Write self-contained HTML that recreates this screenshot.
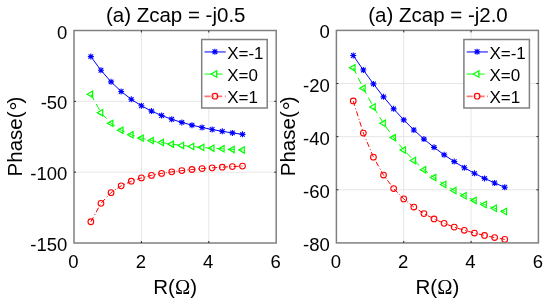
<!DOCTYPE html>
<html><head><meta charset="utf-8"><style>
html,body{margin:0;padding:0;background:#fff;width:550px;height:302px;overflow:hidden}
svg{display:block}
text{font-family:"Liberation Sans",Arial,sans-serif;fill:#000}
.t{font-size:18.5px}
.ti{font-size:20.5px}
.lb{font-size:20.5px}
.lg{font-size:17px}
.om{font-family:"Liberation Serif",serif}
.deg{font-size:12px}
</style></head><body>
<svg width="550" height="302" viewBox="0 0 550 302">
<rect width="550" height="302" fill="#fff"/>
<g><line x1="141.40" y1="30.5" x2="141.40" y2="243.0" stroke="#e6e6e6" stroke-width="1"/>
<line x1="208.80" y1="30.5" x2="208.80" y2="243.0" stroke="#e6e6e6" stroke-width="1"/>
<line x1="74.0" y1="101.33" x2="276.2" y2="101.33" stroke="#e6e6e6" stroke-width="1"/>
<line x1="74.0" y1="172.17" x2="276.2" y2="172.17" stroke="#e6e6e6" stroke-width="1"/>
<path d="M90.85 56.62L100.96 70.27L111.07 81.86L121.18 91.45L131.29 99.32L141.40 105.77L151.51 111.09L161.62 115.53L171.73 119.25L181.84 122.42L191.95 125.14L202.06 127.48L212.17 129.53L222.28 131.33L232.39 132.92L242.50 134.34" stroke="#0000ff" stroke-width="1" fill="none"/>
<path d="M87.85 56.62H93.85M90.85 53.62V59.62M88.55 54.32L93.15 58.92M88.55 58.92L93.15 54.32" stroke="#0000ff" stroke-width="1.1" fill="none"/>
<path d="M97.96 70.27H103.96M100.96 67.27V73.27M98.66 67.97L103.26 72.57M98.66 72.57L103.26 67.97" stroke="#0000ff" stroke-width="1.1" fill="none"/>
<path d="M108.07 81.86H114.07M111.07 78.86V84.86M108.77 79.56L113.37 84.16M108.77 84.16L113.37 79.56" stroke="#0000ff" stroke-width="1.1" fill="none"/>
<path d="M118.18 91.45H124.18M121.18 88.45V94.45M118.88 89.15L123.48 93.75M118.88 93.75L123.48 89.15" stroke="#0000ff" stroke-width="1.1" fill="none"/>
<path d="M128.29 99.32H134.29M131.29 96.32V102.32M128.99 97.02L133.59 101.62M128.99 101.62L133.59 97.02" stroke="#0000ff" stroke-width="1.1" fill="none"/>
<path d="M138.40 105.77H144.40M141.40 102.77V108.77M139.10 103.47L143.70 108.07M139.10 108.07L143.70 103.47" stroke="#0000ff" stroke-width="1.1" fill="none"/>
<path d="M148.51 111.09H154.51M151.51 108.09V114.09M149.21 108.79L153.81 113.39M149.21 113.39L153.81 108.79" stroke="#0000ff" stroke-width="1.1" fill="none"/>
<path d="M158.62 115.53H164.62M161.62 112.53V118.53M159.32 113.23L163.92 117.83M159.32 117.83L163.92 113.23" stroke="#0000ff" stroke-width="1.1" fill="none"/>
<path d="M168.73 119.25H174.73M171.73 116.25V122.25M169.43 116.95L174.03 121.55M169.43 121.55L174.03 116.95" stroke="#0000ff" stroke-width="1.1" fill="none"/>
<path d="M178.84 122.42H184.84M181.84 119.42V125.42M179.54 120.12L184.14 124.72M179.54 124.72L184.14 120.12" stroke="#0000ff" stroke-width="1.1" fill="none"/>
<path d="M188.95 125.14H194.95M191.95 122.14V128.14M189.65 122.84L194.25 127.44M189.65 127.44L194.25 122.84" stroke="#0000ff" stroke-width="1.1" fill="none"/>
<path d="M199.06 127.48H205.06M202.06 124.48V130.48M199.76 125.18L204.36 129.78M199.76 129.78L204.36 125.18" stroke="#0000ff" stroke-width="1.1" fill="none"/>
<path d="M209.17 129.53H215.17M212.17 126.53V132.53M209.87 127.23L214.47 131.83M209.87 131.83L214.47 127.23" stroke="#0000ff" stroke-width="1.1" fill="none"/>
<path d="M219.28 131.33H225.28M222.28 128.33V134.33M219.98 129.03L224.58 133.63M219.98 133.63L224.58 129.03" stroke="#0000ff" stroke-width="1.1" fill="none"/>
<path d="M229.39 132.92H235.39M232.39 129.92V135.92M230.09 130.62L234.69 135.22M230.09 135.22L234.69 130.62" stroke="#0000ff" stroke-width="1.1" fill="none"/>
<path d="M239.50 134.34H245.50M242.50 131.34V137.34M240.20 132.04L244.80 136.64M240.20 136.64L244.80 132.04" stroke="#0000ff" stroke-width="1.1" fill="none"/>
<path d="M90.85 94.25L100.96 112.66L111.07 123.37L121.18 130.16L131.29 134.78L141.40 138.12L151.51 140.62L161.62 142.58L171.73 144.14L181.84 145.42L191.95 146.48L202.06 147.38L212.17 148.15L222.28 148.82L232.39 149.40L242.50 149.91" stroke="#00ff00" stroke-width="1" fill="none" stroke-dasharray="6.8 4.4"/>
<path d="M87.15 94.25L92.65 91.05L92.65 97.45Z" stroke="#00ff00" stroke-width="1.2" fill="none"/>
<path d="M97.26 112.66L102.76 109.46L102.76 115.86Z" stroke="#00ff00" stroke-width="1.2" fill="none"/>
<path d="M107.37 123.37L112.87 120.17L112.87 126.57Z" stroke="#00ff00" stroke-width="1.2" fill="none"/>
<path d="M117.48 130.16L122.98 126.96L122.98 133.36Z" stroke="#00ff00" stroke-width="1.2" fill="none"/>
<path d="M127.59 134.78L133.09 131.58L133.09 137.98Z" stroke="#00ff00" stroke-width="1.2" fill="none"/>
<path d="M137.70 138.12L143.20 134.92L143.20 141.32Z" stroke="#00ff00" stroke-width="1.2" fill="none"/>
<path d="M147.81 140.62L153.31 137.42L153.31 143.82Z" stroke="#00ff00" stroke-width="1.2" fill="none"/>
<path d="M157.92 142.58L163.42 139.38L163.42 145.78Z" stroke="#00ff00" stroke-width="1.2" fill="none"/>
<path d="M168.03 144.14L173.53 140.94L173.53 147.34Z" stroke="#00ff00" stroke-width="1.2" fill="none"/>
<path d="M178.14 145.42L183.64 142.22L183.64 148.62Z" stroke="#00ff00" stroke-width="1.2" fill="none"/>
<path d="M188.25 146.48L193.75 143.28L193.75 149.68Z" stroke="#00ff00" stroke-width="1.2" fill="none"/>
<path d="M198.36 147.38L203.86 144.18L203.86 150.58Z" stroke="#00ff00" stroke-width="1.2" fill="none"/>
<path d="M208.47 148.15L213.97 144.95L213.97 151.35Z" stroke="#00ff00" stroke-width="1.2" fill="none"/>
<path d="M218.58 148.82L224.08 145.62L224.08 152.02Z" stroke="#00ff00" stroke-width="1.2" fill="none"/>
<path d="M228.69 149.40L234.19 146.20L234.19 152.60Z" stroke="#00ff00" stroke-width="1.2" fill="none"/>
<path d="M238.80 149.91L244.30 146.71L244.30 153.11Z" stroke="#00ff00" stroke-width="1.2" fill="none"/>
<path d="M90.85 221.75L100.96 203.34L111.07 192.63L121.18 185.84L131.29 181.22L141.40 177.88L151.51 175.38L161.62 173.42L171.73 171.86L181.84 170.58L191.95 169.52L202.06 168.62L212.17 167.85L222.28 167.18L232.39 166.60L242.50 166.09" stroke="#ff0000" stroke-width="1" fill="none" stroke-dasharray="5.2 2.6 1 2.05"/>
<circle cx="90.85" cy="221.75" r="2.85" stroke="#ff0000" stroke-width="1.1" fill="none"/>
<circle cx="100.96" cy="203.34" r="2.85" stroke="#ff0000" stroke-width="1.1" fill="none"/>
<circle cx="111.07" cy="192.63" r="2.85" stroke="#ff0000" stroke-width="1.1" fill="none"/>
<circle cx="121.18" cy="185.84" r="2.85" stroke="#ff0000" stroke-width="1.1" fill="none"/>
<circle cx="131.29" cy="181.22" r="2.85" stroke="#ff0000" stroke-width="1.1" fill="none"/>
<circle cx="141.40" cy="177.88" r="2.85" stroke="#ff0000" stroke-width="1.1" fill="none"/>
<circle cx="151.51" cy="175.38" r="2.85" stroke="#ff0000" stroke-width="1.1" fill="none"/>
<circle cx="161.62" cy="173.42" r="2.85" stroke="#ff0000" stroke-width="1.1" fill="none"/>
<circle cx="171.73" cy="171.86" r="2.85" stroke="#ff0000" stroke-width="1.1" fill="none"/>
<circle cx="181.84" cy="170.58" r="2.85" stroke="#ff0000" stroke-width="1.1" fill="none"/>
<circle cx="191.95" cy="169.52" r="2.85" stroke="#ff0000" stroke-width="1.1" fill="none"/>
<circle cx="202.06" cy="168.62" r="2.85" stroke="#ff0000" stroke-width="1.1" fill="none"/>
<circle cx="212.17" cy="167.85" r="2.85" stroke="#ff0000" stroke-width="1.1" fill="none"/>
<circle cx="222.28" cy="167.18" r="2.85" stroke="#ff0000" stroke-width="1.1" fill="none"/>
<circle cx="232.39" cy="166.60" r="2.85" stroke="#ff0000" stroke-width="1.1" fill="none"/>
<circle cx="242.50" cy="166.09" r="2.85" stroke="#ff0000" stroke-width="1.1" fill="none"/>
<rect x="74.0" y="30.5" width="202.20" height="212.50" fill="none" stroke="#808080" stroke-width="1.5"/>
<line x1="141.40" y1="30.5" x2="141.40" y2="32.5" stroke="#262626"/>
<line x1="141.40" y1="243.0" x2="141.40" y2="241.0" stroke="#262626"/>
<line x1="208.80" y1="30.5" x2="208.80" y2="32.5" stroke="#262626"/>
<line x1="208.80" y1="243.0" x2="208.80" y2="241.0" stroke="#262626"/>
<line x1="74.0" y1="101.33" x2="76.0" y2="101.33" stroke="#262626"/>
<line x1="276.2" y1="101.33" x2="274.2" y2="101.33" stroke="#262626"/>
<line x1="74.0" y1="172.17" x2="76.0" y2="172.17" stroke="#262626"/>
<line x1="276.2" y1="172.17" x2="274.2" y2="172.17" stroke="#262626"/>
<text x="73.40" y="268.20" text-anchor="middle" class="t">0</text>
<text x="140.80" y="268.20" text-anchor="middle" class="t">2</text>
<text x="208.20" y="268.20" text-anchor="middle" class="t">4</text>
<text x="275.60" y="268.20" text-anchor="middle" class="t">6</text>
<text x="67.40" y="38.50" text-anchor="end" class="t">0</text>
<text x="67.40" y="109.33" text-anchor="end" class="t">-50</text>
<text x="67.40" y="180.17" text-anchor="end" class="t">-100</text>
<text x="67.40" y="251.00" text-anchor="end" class="t">-150</text>
<text x="175.70" y="21.7" text-anchor="middle" class="ti">(a) Zcap = -j0.5</text>
<text x="175.10" y="294.00" text-anchor="middle" class="lb">R(<tspan class="om">Ω</tspan>)</text>
<text transform="translate(21.60 176.40) rotate(-90)" class="lb">Phase(<tspan dy="4.0" dx="1.0" style="font-size:22.5px">°</tspan><tspan dy="-4.0" dx="-2.0">)</tspan></text>
<rect x="201.70" y="39.50" width="65.5" height="68.5" fill="#fff" stroke="#808080" stroke-width="1.5"/>
<line x1="204.50" y1="51.90" x2="225.70" y2="51.90" stroke="#0000ff" stroke-width="1.9" stroke-opacity="0.55"/>
<path d="M211.90 51.70H217.90M214.90 48.70V54.70M212.60 49.40L217.20 54.00M212.60 54.00L217.20 49.40" stroke="#0000ff" stroke-width="1.1" fill="none"/>
<text x="227.20" y="58.60" class="lg">X=-1</text>
<line x1="204.50" y1="74.15" x2="225.70" y2="74.15" stroke="#00ff00" stroke-width="1.9" stroke-opacity="0.55" stroke-dasharray="6.8 4.4"/>
<path d="M211.20 73.95L216.70 70.75L216.70 77.15Z" stroke="#00ff00" stroke-width="1.2" fill="none"/>
<text x="227.20" y="80.85" class="lg">X=0</text>
<line x1="204.50" y1="96.40" x2="225.70" y2="96.40" stroke="#ff0000" stroke-width="1.9" stroke-opacity="0.55" stroke-dasharray="6 2.5 1 2.3"/>
<circle cx="214.90" cy="96.20" r="2.85" stroke="#ff0000" stroke-width="1.1" fill="none"/>
<text x="227.20" y="103.10" class="lg">X=1</text></g>
<g><line x1="403.73" y1="30.4" x2="403.73" y2="242.9" stroke="#e6e6e6" stroke-width="1"/>
<line x1="471.07" y1="30.4" x2="471.07" y2="242.9" stroke="#e6e6e6" stroke-width="1"/>
<line x1="336.4" y1="83.53" x2="538.4" y2="83.53" stroke="#e6e6e6" stroke-width="1"/>
<line x1="336.4" y1="136.65" x2="538.4" y2="136.65" stroke="#e6e6e6" stroke-width="1"/>
<line x1="336.4" y1="189.78" x2="538.4" y2="189.78" stroke="#e6e6e6" stroke-width="1"/>
<path d="M353.23 55.53L363.33 70.06L373.43 83.89L383.53 96.85L393.63 108.86L403.73 119.89L413.83 129.95L423.93 139.08L434.03 147.35L444.13 154.84L454.23 161.62L464.33 167.75L474.43 173.32L484.53 178.39L494.63 183.00L504.73 187.22" stroke="#0000ff" stroke-width="1" fill="none"/>
<path d="M350.23 55.53H356.23M353.23 52.53V58.53M350.93 53.23L355.53 57.83M350.93 57.83L355.53 53.23" stroke="#0000ff" stroke-width="1.1" fill="none"/>
<path d="M360.33 70.06H366.33M363.33 67.06V73.06M361.03 67.76L365.63 72.36M361.03 72.36L365.63 67.76" stroke="#0000ff" stroke-width="1.1" fill="none"/>
<path d="M370.43 83.89H376.43M373.43 80.89V86.89M371.13 81.59L375.73 86.19M371.13 86.19L375.73 81.59" stroke="#0000ff" stroke-width="1.1" fill="none"/>
<path d="M380.53 96.85H386.53M383.53 93.85V99.85M381.23 94.55L385.83 99.15M381.23 99.15L385.83 94.55" stroke="#0000ff" stroke-width="1.1" fill="none"/>
<path d="M390.63 108.86H396.63M393.63 105.86V111.86M391.33 106.56L395.93 111.16M391.33 111.16L395.93 106.56" stroke="#0000ff" stroke-width="1.1" fill="none"/>
<path d="M400.73 119.89H406.73M403.73 116.89V122.89M401.43 117.59L406.03 122.19M401.43 122.19L406.03 117.59" stroke="#0000ff" stroke-width="1.1" fill="none"/>
<path d="M410.83 129.95H416.83M413.83 126.95V132.95M411.53 127.65L416.13 132.25M411.53 132.25L416.13 127.65" stroke="#0000ff" stroke-width="1.1" fill="none"/>
<path d="M420.93 139.08H426.93M423.93 136.08V142.08M421.63 136.78L426.23 141.38M421.63 141.38L426.23 136.78" stroke="#0000ff" stroke-width="1.1" fill="none"/>
<path d="M431.03 147.35H437.03M434.03 144.35V150.35M431.73 145.05L436.33 149.65M431.73 149.65L436.33 145.05" stroke="#0000ff" stroke-width="1.1" fill="none"/>
<path d="M441.13 154.84H447.13M444.13 151.84V157.84M441.83 152.54L446.43 157.14M441.83 157.14L446.43 152.54" stroke="#0000ff" stroke-width="1.1" fill="none"/>
<path d="M451.23 161.62H457.23M454.23 158.62V164.62M451.93 159.32L456.53 163.92M451.93 163.92L456.53 159.32" stroke="#0000ff" stroke-width="1.1" fill="none"/>
<path d="M461.33 167.75H467.33M464.33 164.75V170.75M462.03 165.45L466.63 170.05M462.03 170.05L466.63 165.45" stroke="#0000ff" stroke-width="1.1" fill="none"/>
<path d="M471.43 173.32H477.43M474.43 170.32V176.32M472.13 171.02L476.73 175.62M472.13 175.62L476.73 171.02" stroke="#0000ff" stroke-width="1.1" fill="none"/>
<path d="M481.53 178.39H487.53M484.53 175.39V181.39M482.23 176.09L486.83 180.69M482.23 180.69L486.83 176.09" stroke="#0000ff" stroke-width="1.1" fill="none"/>
<path d="M491.63 183.00H497.63M494.63 180.00V186.00M492.33 180.70L496.93 185.30M492.33 185.30L496.93 180.70" stroke="#0000ff" stroke-width="1.1" fill="none"/>
<path d="M501.73 187.22H507.73M504.73 184.22V190.22M502.43 184.92L507.03 189.52M502.43 189.52L507.03 184.92" stroke="#0000ff" stroke-width="1.1" fill="none"/>
<path d="M353.23 67.68L363.33 88.31L373.43 106.93L383.53 123.35L393.63 137.62L403.73 149.93L413.83 160.53L423.93 169.67L434.03 177.58L444.13 184.45L454.23 190.45L464.33 195.73L474.43 200.39L484.53 204.53L494.63 208.23L504.73 211.55" stroke="#00ff00" stroke-width="1" fill="none" stroke-dasharray="6.8 4.4"/>
<path d="M349.53 67.68L355.03 64.48L355.03 70.88Z" stroke="#00ff00" stroke-width="1.2" fill="none"/>
<path d="M359.63 88.31L365.13 85.11L365.13 91.51Z" stroke="#00ff00" stroke-width="1.2" fill="none"/>
<path d="M369.73 106.93L375.23 103.73L375.23 110.13Z" stroke="#00ff00" stroke-width="1.2" fill="none"/>
<path d="M379.83 123.35L385.33 120.15L385.33 126.55Z" stroke="#00ff00" stroke-width="1.2" fill="none"/>
<path d="M389.93 137.62L395.43 134.42L395.43 140.82Z" stroke="#00ff00" stroke-width="1.2" fill="none"/>
<path d="M400.03 149.93L405.53 146.73L405.53 153.13Z" stroke="#00ff00" stroke-width="1.2" fill="none"/>
<path d="M410.13 160.53L415.63 157.33L415.63 163.73Z" stroke="#00ff00" stroke-width="1.2" fill="none"/>
<path d="M420.23 169.67L425.73 166.47L425.73 172.87Z" stroke="#00ff00" stroke-width="1.2" fill="none"/>
<path d="M430.33 177.58L435.83 174.38L435.83 180.78Z" stroke="#00ff00" stroke-width="1.2" fill="none"/>
<path d="M440.43 184.45L445.93 181.25L445.93 187.65Z" stroke="#00ff00" stroke-width="1.2" fill="none"/>
<path d="M450.53 190.45L456.03 187.25L456.03 193.65Z" stroke="#00ff00" stroke-width="1.2" fill="none"/>
<path d="M460.63 195.73L466.13 192.53L466.13 198.93Z" stroke="#00ff00" stroke-width="1.2" fill="none"/>
<path d="M470.73 200.39L476.23 197.19L476.23 203.59Z" stroke="#00ff00" stroke-width="1.2" fill="none"/>
<path d="M480.83 204.53L486.33 201.33L486.33 207.73Z" stroke="#00ff00" stroke-width="1.2" fill="none"/>
<path d="M490.93 208.23L496.43 205.03L496.43 211.43Z" stroke="#00ff00" stroke-width="1.2" fill="none"/>
<path d="M501.03 211.55L506.53 208.35L506.53 214.75Z" stroke="#00ff00" stroke-width="1.2" fill="none"/>
<path d="M353.23 100.96L363.33 133.09L373.43 157.17L383.53 175.07L393.63 188.54L403.73 198.90L413.83 207.04L423.93 213.58L434.03 218.93L444.13 223.37L454.23 227.11L464.33 230.30L474.43 233.05L484.53 235.45L494.63 237.56L504.73 239.42" stroke="#ff0000" stroke-width="1" fill="none" stroke-dasharray="5.2 2.6 1 2.05"/>
<circle cx="353.23" cy="100.96" r="2.85" stroke="#ff0000" stroke-width="1.1" fill="none"/>
<circle cx="363.33" cy="133.09" r="2.85" stroke="#ff0000" stroke-width="1.1" fill="none"/>
<circle cx="373.43" cy="157.17" r="2.85" stroke="#ff0000" stroke-width="1.1" fill="none"/>
<circle cx="383.53" cy="175.07" r="2.85" stroke="#ff0000" stroke-width="1.1" fill="none"/>
<circle cx="393.63" cy="188.54" r="2.85" stroke="#ff0000" stroke-width="1.1" fill="none"/>
<circle cx="403.73" cy="198.90" r="2.85" stroke="#ff0000" stroke-width="1.1" fill="none"/>
<circle cx="413.83" cy="207.04" r="2.85" stroke="#ff0000" stroke-width="1.1" fill="none"/>
<circle cx="423.93" cy="213.58" r="2.85" stroke="#ff0000" stroke-width="1.1" fill="none"/>
<circle cx="434.03" cy="218.93" r="2.85" stroke="#ff0000" stroke-width="1.1" fill="none"/>
<circle cx="444.13" cy="223.37" r="2.85" stroke="#ff0000" stroke-width="1.1" fill="none"/>
<circle cx="454.23" cy="227.11" r="2.85" stroke="#ff0000" stroke-width="1.1" fill="none"/>
<circle cx="464.33" cy="230.30" r="2.85" stroke="#ff0000" stroke-width="1.1" fill="none"/>
<circle cx="474.43" cy="233.05" r="2.85" stroke="#ff0000" stroke-width="1.1" fill="none"/>
<circle cx="484.53" cy="235.45" r="2.85" stroke="#ff0000" stroke-width="1.1" fill="none"/>
<circle cx="494.63" cy="237.56" r="2.85" stroke="#ff0000" stroke-width="1.1" fill="none"/>
<circle cx="504.73" cy="239.42" r="2.85" stroke="#ff0000" stroke-width="1.1" fill="none"/>
<rect x="336.4" y="30.4" width="202.00" height="212.50" fill="none" stroke="#808080" stroke-width="1.5"/>
<line x1="403.73" y1="30.4" x2="403.73" y2="32.4" stroke="#262626"/>
<line x1="403.73" y1="242.9" x2="403.73" y2="240.9" stroke="#262626"/>
<line x1="471.07" y1="30.4" x2="471.07" y2="32.4" stroke="#262626"/>
<line x1="471.07" y1="242.9" x2="471.07" y2="240.9" stroke="#262626"/>
<line x1="336.4" y1="83.53" x2="338.4" y2="83.53" stroke="#262626"/>
<line x1="538.4" y1="83.53" x2="536.4" y2="83.53" stroke="#262626"/>
<line x1="336.4" y1="136.65" x2="338.4" y2="136.65" stroke="#262626"/>
<line x1="538.4" y1="136.65" x2="536.4" y2="136.65" stroke="#262626"/>
<line x1="336.4" y1="189.78" x2="338.4" y2="189.78" stroke="#262626"/>
<line x1="538.4" y1="189.78" x2="536.4" y2="189.78" stroke="#262626"/>
<text x="335.80" y="268.10" text-anchor="middle" class="t">0</text>
<text x="403.13" y="268.10" text-anchor="middle" class="t">2</text>
<text x="470.47" y="268.10" text-anchor="middle" class="t">4</text>
<text x="537.80" y="268.10" text-anchor="middle" class="t">6</text>
<text x="329.80" y="38.40" text-anchor="end" class="t">0</text>
<text x="329.80" y="91.53" text-anchor="end" class="t">-20</text>
<text x="329.80" y="144.65" text-anchor="end" class="t">-40</text>
<text x="329.80" y="197.78" text-anchor="end" class="t">-60</text>
<text x="329.80" y="250.90" text-anchor="end" class="t">-80</text>
<text x="438.00" y="21.7" text-anchor="middle" class="ti">(a) Zcap = -j2.0</text>
<text x="437.40" y="293.90" text-anchor="middle" class="lb">R(<tspan class="om">Ω</tspan>)</text>
<text transform="translate(294.70 176.20) rotate(-90)" class="lb">Phase(<tspan dy="4.0" dx="1.0" style="font-size:22.5px">°</tspan><tspan dy="-4.0" dx="-2.0">)</tspan></text>
<rect x="463.90" y="39.50" width="65.5" height="68.5" fill="#fff" stroke="#808080" stroke-width="1.5"/>
<line x1="466.70" y1="51.90" x2="487.90" y2="51.90" stroke="#0000ff" stroke-width="1.9" stroke-opacity="0.55"/>
<path d="M474.10 51.70H480.10M477.10 48.70V54.70M474.80 49.40L479.40 54.00M474.80 54.00L479.40 49.40" stroke="#0000ff" stroke-width="1.1" fill="none"/>
<text x="489.40" y="58.60" class="lg">X=-1</text>
<line x1="466.70" y1="74.15" x2="487.90" y2="74.15" stroke="#00ff00" stroke-width="1.9" stroke-opacity="0.55" stroke-dasharray="6.8 4.4"/>
<path d="M473.40 73.95L478.90 70.75L478.90 77.15Z" stroke="#00ff00" stroke-width="1.2" fill="none"/>
<text x="489.40" y="80.85" class="lg">X=0</text>
<line x1="466.70" y1="96.40" x2="487.90" y2="96.40" stroke="#ff0000" stroke-width="1.9" stroke-opacity="0.55" stroke-dasharray="6 2.5 1 2.3"/>
<circle cx="477.10" cy="96.20" r="2.85" stroke="#ff0000" stroke-width="1.1" fill="none"/>
<text x="489.40" y="103.10" class="lg">X=1</text></g>
</svg>
</body></html>
